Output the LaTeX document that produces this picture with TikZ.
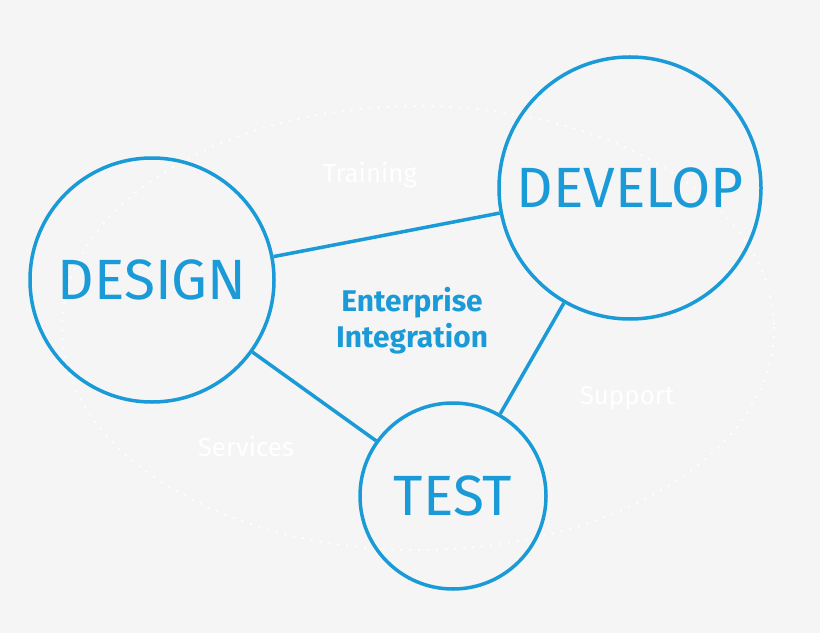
\documentclass[tikz,border=0pt]{standalone}
\usepackage{fontspec}
\setmainfont{Fira Sans}
\begin{document}
\begin{tikzpicture}[x=1bp,y=-1bp,
  bub/.style={circle,draw=myblue,line width=3.5bp,inner sep=0pt,text=myblue,font=\fontsize{57}{57}\selectfont},
  lnk/.style={draw=myblue,line width=3.5bp},
  wl/.style={text=white,font=\fontsize{26}{26}\selectfont}]
\definecolor{myblue}{HTML}{1A9AD6}
\definecolor{bg}{HTML}{F5F5F5}
\fill[bg] (0,0) rectangle (820,633);
\useasboundingbox (0,0) rectangle (820,633);
\draw[white,line width=2.5bp,line cap=round,dash pattern=on 0pt off 9bp] (418,328) ellipse [x radius=356, y radius=222];
\node[bub,minimum size=244bp] (design) at (152,280) {DESIGN};
\node[bub,minimum size=262bp] (develop) at (630,188) {DEVELOP};
\node[bub,minimum size=186bp] (test) at (453,496) {TEST};
\draw[lnk] (design) -- (develop);
\draw[lnk] (design) -- (test);
\draw[lnk] (develop) -- (test);
\node[text=myblue,font=\bfseries\fontsize{30}{36}\selectfont,align=center] (ei) at (412,321) {Enterprise\\Integration};
\node[wl] (tr) at (370,175) {Training};
\node[wl] (su) at (627,398) {Support};
\node[wl] (se) at (246,447) {Services};
\end{tikzpicture}
\end{document}
